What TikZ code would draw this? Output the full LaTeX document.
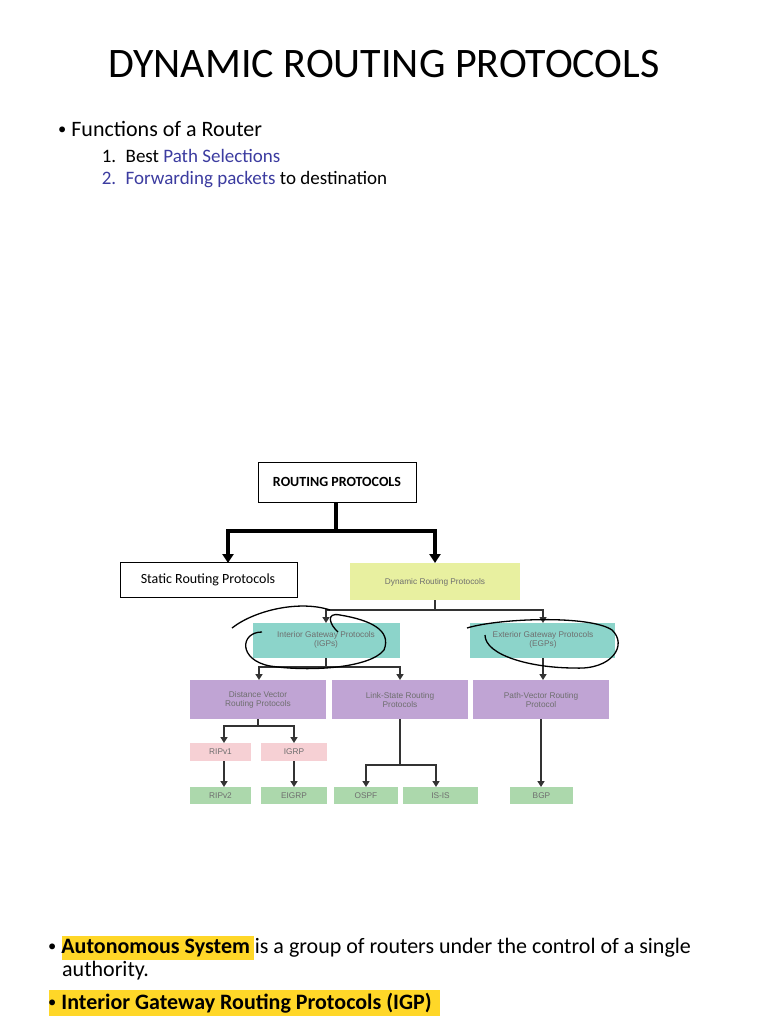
\documentclass[tikz,border=0pt]{standalone}
\usepackage{fontspec}
\setmainfont{Carlito}
\newfontfamily\arial{Liberation Sans}
\usetikzlibrary{arrows.meta}
\definecolor{blu}{RGB}{60,60,160}
\definecolor{hl}{RGB}{255,215,40}
\definecolor{yel}{RGB}{232,240,160}
\definecolor{teal}{RGB}{140,212,202}
\definecolor{purp}{RGB}{192,164,212}
\definecolor{pink}{RGB}{246,208,212}
\definecolor{grn}{RGB}{172,216,172}
\definecolor{gtxt}{RGB}{110,110,110}
\newcommand{\bul}{\raisebox{0.1em}{\scalebox{0.75}{•}}}
\begin{document}
\begin{tikzpicture}[x=1pt,y=-1pt,
 box/.style={draw=black,line width=0.8pt,fill=white},
 lbl/.style={font=\arial\fontsize{8.3}{9.3}\selectfont,text=gtxt,align=center},
 thick/.style={line width=3.5pt,-{Triangle[length=9pt,width=11pt]}},
 thin/.style={line width=2pt,draw=black!80,-{Triangle[length=6pt,width=7pt]}},
 thinl/.style={line width=2pt,draw=black!80},
 pen/.style={line width=1.3pt,black},
 body/.style={anchor=west,font=\fontsize{22}{26}\selectfont,inner sep=0pt}]
\useasboundingbox (0,0) rectangle (768,1024);
\fill[white] (0,0) rectangle (768,1024);
% texts
\node[font=\fontsize{42}{48}\selectfont] (title) at (384,64) {DYNAMIC ROUTING PROTOCOLS};
\node[body] (f) at (58,129) {\bul\ Functions of a Router};
\node[anchor=west,inner sep=0pt,font=\fontsize{19}{22}\selectfont] (f1) at (97,156) {\makebox[19pt][r]{1.}\enspace Best \textcolor{blu}{Path Selections}};
\node[anchor=west,inner sep=0pt,font=\fontsize{19}{22}\selectfont] (f2) at (97,180) {\textcolor{blu}{\makebox[19pt][r]{2.}\enspace Forwarding packets} to destination};
% diagram boxes
\draw[box] (258,462) rectangle (416,502);
\node[font=\bfseries\fontsize{14}{16}\selectfont] (rp) at (337,482) {ROUTING PROTOCOLS};
\draw[box] (120,562) rectangle (297,597);
\node[font=\fontsize{14}{16}\selectfont] (st) at (208,580) {Static Routing Protocols};
\fill[yel] (350,563) rectangle (520,600);
\node[lbl] (dy) at (435,582) {Dynamic Routing Protocols};
\fill[teal] (253,623) rectangle (400,658);
\node[lbl] (igp) at (326,640) {Interior Gateway Protocols\\(IGPs)};
\fill[teal] (470,623) rectangle (615,658);
\node[lbl] (egp) at (543,640) {Exterior Gateway Protocols\\(EGPs)};
\fill[purp] (190,680) rectangle (326,719);
\node[lbl] (dv) at (258,700) {Distance Vector\\Routing Protocols};
\fill[purp] (332,680) rectangle (468,719);
\node[lbl] (ls) at (400,700) {Link-State Routing\\Protocols};
\fill[purp] (473,680) rectangle (609,719);
\node[lbl] (pv) at (541,700) {Path-Vector Routing\\Protocol};
\fill[pink] (190,743) rectangle (251,761); \node[lbl] (r1) at (220.5,752) {RIPv1};
\fill[pink] (261,743) rectangle (327,761); \node[lbl] (ig) at (294,752) {IGRP};
\fill[grn] (190,787) rectangle (251,804); \node[lbl] (r2) at (220.5,795.5) {RIPv2};
\fill[grn] (261,787) rectangle (327,804); \node[lbl] (ei) at (294,795.5) {EIGRP};
\fill[grn] (334,787) rectangle (398,804); \node[lbl] (os) at (366,795.5) {OSPF};
\fill[grn] (403,787) rectangle (478,804); \node[lbl] (is) at (440.5,795.5) {IS-IS};
\fill[grn] (510,787) rectangle (573,804); \node[lbl] (bgp) at (541.5,795.5) {BGP};
% connectors
\coordinate (a0) at (336,531);
\draw[line width=3.5pt] (336,502) -- (a0);
\draw[thick] (a0) -| (228,563);
\draw[thick] (a0) -| (435,563);
\draw[thinl] (435,600) -- (435,610);
\draw[thin] (435,610) -| (326,623);
\draw[thin] (435,610) -| (543,623);
\draw[thinl] (326,658) -- (326,667);
\draw[thin] (326,667) -| (259,680);
\draw[thin] (326,667) -| (400,680);
\draw[thin] (543,658) -- (543,680);
\draw[thinl] (258,719) -- (258,726);
\draw[thin] (258,726) -| (224,743);
\draw[thin] (258,726) -| (294,743);
\draw[thin] (224,761) -- (224,787);
\draw[thin] (294,761) -- (294,787);
\draw[thinl] (400,719) -- (400,765);
\draw[thin] (400,765) -| (366,787);
\draw[thin] (400,765) -| (436,787);
\draw[thin] (541,719) -- (541,787);
% pen marks
\draw[pen] (232,628) .. controls (255,610) and (300,600) .. (330,610);
\draw[pen] (262,632) .. controls (240,632) and (238,660) .. (270,666) .. controls (310,672) and (370,668) .. (384,650) .. controls (392,630) and (370,620) .. (340,615) .. controls (325,612) and (330,625) .. (338,632);
\draw[pen] (467,628) .. controls (500,618) and (590,615) .. (612,630) .. controls (628,645) and (612,670) .. (575,668) .. controls (530,668) and (485,655) .. (485,635);
% bottom texts
\fill[hl] (62,936) rectangle (254,960);
\node[body] (as) at (48,948) {\bul\ \textbf{Autonomous System} is a group of routers under the control of a single};
\node[body] (au) at (62,971) {authority.};
\fill[hl] (49,990) rectangle (440,1016);
\node[body] (igpt) at (48,1003) {\bul\ \textbf{Interior Gateway Routing Protocols (IGP)}};
\end{tikzpicture}
\end{document}
